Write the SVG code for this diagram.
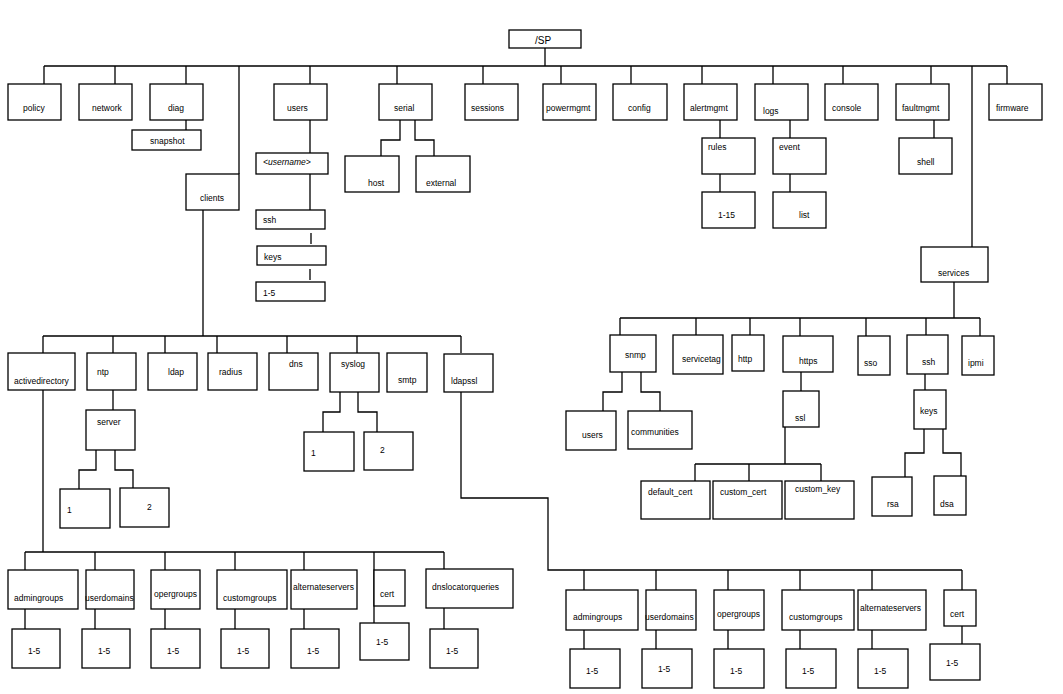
<svg xmlns="http://www.w3.org/2000/svg" width="1063" height="694" viewBox="0 0 1063 694">
<style>
rect{fill:#fff;stroke:#000;stroke-width:1.3}
#connectors path{fill:none;stroke:#000;stroke-width:1.3}
text{font-family:"Liberation Sans",Arial,sans-serif;font-size:8.5px;fill:#000}
</style>
<rect x="0" y="0" width="1063" height="694" style="stroke:none"/>
<g id="connectors">
<path d="M545 48V66M44 66H1007M44 66V84M115 66V84M186 66V84M239 66V174M310 66V84M397 66V84M483 66V84M561 66V84M631 66V84M702 66V84M773 66V84M843 66V84M931 66V84M1007 66V84M972 66V247"/>
<path d="M186 120V130M310 120V153M310 174V210M311 233V244M310 269V280"/>
<path d="M400 120V140H381V156M415 120V140H434V156"/>
<path d="M720 120V138M720 174V192M790 120V138M790 174V192M934 120V138"/>
<path d="M203 210V336M43 336H461M43 336V353M113 336V353M165 336V353M217 336V353M287 336V353M357 336V353M461 336V353"/>
<path d="M113 390V410M96 450V470H79V489M115 450V470H133V489"/>
<path d="M340 392V412H323V432M358 392V412H377V432"/>
<path d="M43 390V552M25 552H444M25 552V570M95 552V570M165 552V570M235 552V570M304 552V570M374 552V623M444 552V569"/>
<path d="M25 609V629M95 609V629M165 609V629M235 609V629M304 609V629M444 608V629"/>
<path d="M461 392V498H548V570H962M584 570V590M656 570V590M728 570V590M800 570V590M872 570V590M962 570V590M962 626V644"/>
<path d="M584 630V649M656 630V649M728 630V649M800 630V649M872 630V649"/>
<path d="M954 282V318M620 318H980M620 318V335M696 318V335M750 318V335M800 318V336M866 318V336M926 318V335M980 318V336"/>
<path d="M622 372V392H603V411M641 372V392H660V411"/>
<path d="M801 372V391M785 427V464M695 464H821M695 464V481M749 464V481M821 464V481"/>
<path d="M925 374V390M924 429V453H905V477M943 429V453H961V476"/>
</g>
<g id="sp"><rect x="509" y="30" width="72" height="18"/><text x="535" y="44" style="font-size:10px">/SP</text></g>
<g id="policy"><rect x="8" y="84" width="53" height="36"/><text x="23" y="111">policy</text></g>
<g id="network"><rect x="79" y="84" width="53" height="36"/><text x="92" y="111">network</text></g>
<g id="diag"><rect x="150" y="84" width="53" height="36"/><text x="168" y="111">diag</text></g>
<g id="snapshot"><rect x="132" y="130" width="69" height="20"/><text x="150" y="144">snapshot</text></g>
<g id="clients"><rect x="186" y="174" width="53" height="36"/><text x="200" y="201">clients</text></g>
<g id="users"><rect x="274" y="84" width="53" height="36"/><text x="287" y="111">users</text></g>
<g id="username"><rect x="256" y="153" width="72" height="21"/><text x="263" y="165" style="font-style:italic">&lt;username&gt;</text></g>
<g id="ssh_u"><rect x="256" y="210" width="69" height="19"/><text x="263" y="223">ssh</text></g>
<g id="keys_u"><rect x="257" y="246" width="69" height="19"/><text x="264" y="260">keys</text></g>
<g id="k15"><rect x="256" y="282" width="69" height="19"/><text x="263" y="296">1-5</text></g>
<g id="serial"><rect x="379" y="84" width="53" height="36"/><text x="394" y="111">serial</text></g>
<g id="host"><rect x="345" y="156" width="54" height="36"/><text x="368" y="186">host</text></g>
<g id="external"><rect x="416" y="156" width="54" height="36"/><text x="426" y="186">external</text></g>
<g id="sessions"><rect x="465" y="84" width="53" height="36"/><text x="471" y="111">sessions</text></g>
<g id="powermgmt"><rect x="543" y="84" width="53" height="36"/><text x="546" y="111">powermgmt</text></g>
<g id="config"><rect x="613" y="84" width="54" height="36"/><text x="628" y="111">config</text></g>
<g id="alertmgmt"><rect x="684" y="84" width="53" height="36"/><text x="690" y="111">alertmgmt</text></g>
<g id="rules"><rect x="702" y="138" width="53" height="36"/><text x="708" y="150">rules</text></g>
<g id="r115"><rect x="702" y="192" width="53" height="36"/><text x="718" y="218">1-15</text></g>
<g id="logs"><rect x="755" y="84" width="53" height="36"/><text x="763" y="114">logs</text></g>
<g id="event"><rect x="773" y="138" width="53" height="36"/><text x="779" y="150">event</text></g>
<g id="list"><rect x="773" y="192" width="53" height="36"/><text x="799" y="218">list</text></g>
<g id="console"><rect x="825" y="84" width="53" height="36"/><text x="832" y="111">console</text></g>
<g id="faultmgmt"><rect x="896" y="84" width="53" height="36"/><text x="902" y="111">faultmgmt</text></g>
<g id="shell"><rect x="899" y="138" width="53" height="36"/><text x="917" y="165">shell</text></g>
<g id="firmware"><rect x="989" y="84" width="53" height="36"/><text x="996" y="111">firmware</text></g>
<g id="services"><rect x="921" y="247" width="67" height="35"/><text x="938" y="276">services</text></g>
<g id="activedirectory"><rect x="8" y="353" width="67" height="37"/><text x="14" y="384">activedirectory</text></g>
<g id="ntp"><rect x="87" y="353" width="49" height="37"/><text x="97" y="375">ntp</text></g>
<g id="server"><rect x="86" y="410" width="49" height="40"/><text x="97" y="425">server</text></g>
<g id="ntp1"><rect x="60" y="489" width="50" height="39"/><text x="67" y="513">1</text></g>
<g id="ntp2"><rect x="120" y="488" width="49" height="39"/><text x="147" y="510">2</text></g>
<g id="ldap"><rect x="148" y="353" width="49" height="37"/><text x="168" y="375">ldap</text></g>
<g id="radius"><rect x="208" y="353" width="49" height="37"/><text x="219" y="375">radius</text></g>
<g id="dns"><rect x="269" y="353" width="49" height="37"/><text x="289" y="367">dns</text></g>
<g id="syslog"><rect x="330" y="353" width="49" height="39"/><text x="341" y="367">syslog</text></g>
<g id="sys1"><rect x="304" y="432" width="50" height="39"/><text x="311" y="456">1</text></g>
<g id="sys2"><rect x="364" y="432" width="49" height="38"/><text x="380" y="453">2</text></g>
<g id="smtp"><rect x="387" y="353" width="40" height="39"/><text x="398" y="383">smtp</text></g>
<g id="ldapssl"><rect x="444" y="354" width="49" height="38"/><text x="451" y="384">ldapssl</text></g>
<g id="ad_admingroups"><rect x="8" y="570" width="70" height="39"/><text x="14" y="601">admingroups</text></g>
<g id="ad_userdomains"><rect x="86" y="570" width="48" height="39"/><text x="85" y="601">userdomains</text></g>
<g id="ad_opergroups"><rect x="151" y="570" width="49" height="39"/><text x="154" y="597">opergroups</text></g>
<g id="ad_customgroups"><rect x="217" y="570" width="70" height="39"/><text x="223" y="601">customgroups</text></g>
<g id="ad_alternateservers"><rect x="291" y="570" width="66" height="39"/><text x="293" y="590">alternateservers</text></g>
<g id="ad_cert"><rect x="374" y="570" width="31" height="36"/><text x="380" y="597">cert</text></g>
<g id="ad_dnslocatorqueries"><rect x="426" y="569" width="87" height="39"/><text x="432" y="590">dnslocatorqueries</text></g>
<g id="ad15a"><rect x="12" y="629" width="48" height="39"/><text x="28" y="654">1-5</text></g>
<g id="ad15b"><rect x="82" y="629" width="48" height="39"/><text x="98" y="654">1-5</text></g>
<g id="ad15c"><rect x="151" y="629" width="49" height="39"/><text x="167" y="654">1-5</text></g>
<g id="ad15d"><rect x="221" y="629" width="48" height="39"/><text x="237" y="654">1-5</text></g>
<g id="ad15e"><rect x="291" y="629" width="48" height="39"/><text x="307" y="654">1-5</text></g>
<g id="ad15f"><rect x="360" y="623" width="49" height="37"/><text x="376" y="645">1-5</text></g>
<g id="ad15g"><rect x="430" y="629" width="48" height="39"/><text x="446" y="654">1-5</text></g>
<g id="ls_admingroups"><rect x="566" y="590" width="72" height="40"/><text x="573" y="620">admingroups</text></g>
<g id="ls_userdomains"><rect x="646" y="590" width="50" height="40"/><text x="645" y="620">userdomains</text></g>
<g id="ls_opergroups"><rect x="714" y="590" width="50" height="40"/><text x="717" y="617">opergroups</text></g>
<g id="ls_customgroups"><rect x="782" y="590" width="72" height="40"/><text x="789" y="620">customgroups</text></g>
<g id="ls_alternateservers"><rect x="858" y="590" width="68" height="40"/><text x="860" y="611">alternateservers</text></g>
<g id="ls_cert"><rect x="944" y="590" width="32" height="36"/><text x="950" y="617">cert</text></g>
<g id="ls15a"><rect x="570" y="649" width="50" height="39"/><text x="586" y="674">1-5</text></g>
<g id="ls15b"><rect x="642" y="649" width="50" height="39"/><text x="658" y="672">1-5</text></g>
<g id="ls15c"><rect x="714" y="649" width="50" height="39"/><text x="730" y="674">1-5</text></g>
<g id="ls15d"><rect x="786" y="649" width="50" height="39"/><text x="802" y="674">1-5</text></g>
<g id="ls15e"><rect x="858" y="649" width="50" height="39"/><text x="874" y="674">1-5</text></g>
<g id="ls15f"><rect x="930" y="644" width="50" height="36"/><text x="946" y="666">1-5</text></g>
<g id="snmp"><rect x="610" y="335" width="46" height="37"/><text x="625" y="358">snmp</text></g>
<g id="snmp_users"><rect x="566" y="411" width="50" height="39"/><text x="582" y="438">users</text></g>
<g id="communities"><rect x="628" y="411" width="64" height="38"/><text x="631" y="435">communities</text></g>
<g id="servicetag"><rect x="673" y="335" width="50" height="39"/><text x="682" y="362">servicetag</text></g>
<g id="http"><rect x="732" y="335" width="32" height="36"/><text x="738" y="362">http</text></g>
<g id="https"><rect x="783" y="336" width="50" height="36"/><text x="799" y="364">https</text></g>
<g id="ssl"><rect x="783" y="391" width="36" height="36"/><text x="795" y="421">ssl</text></g>
<g id="default_cert"><rect x="641" y="481" width="69" height="38"/><text x="648" y="495">default_cert</text></g>
<g id="custom_cert"><rect x="713" y="481" width="69" height="38"/><text x="720" y="495">custom_cert</text></g>
<g id="custom_key"><rect x="785" y="481" width="69" height="38"/><text x="795" y="492">custom_key</text></g>
<g id="sso"><rect x="858" y="336" width="32" height="39"/><text x="864" y="366">sso</text></g>
<g id="ssh_s"><rect x="907" y="335" width="41" height="39"/><text x="922" y="365">ssh</text></g>
<g id="keys_s"><rect x="914" y="390" width="32" height="39"/><text x="920" y="414">keys</text></g>
<g id="rsa"><rect x="872" y="477" width="40" height="39"/><text x="887" y="507">rsa</text></g>
<g id="dsa"><rect x="934" y="476" width="32" height="39"/><text x="940" y="507">dsa</text></g>
<g id="ipmi"><rect x="962" y="336" width="32" height="39"/><text x="968" y="366">ipmi</text></g>
</svg>
